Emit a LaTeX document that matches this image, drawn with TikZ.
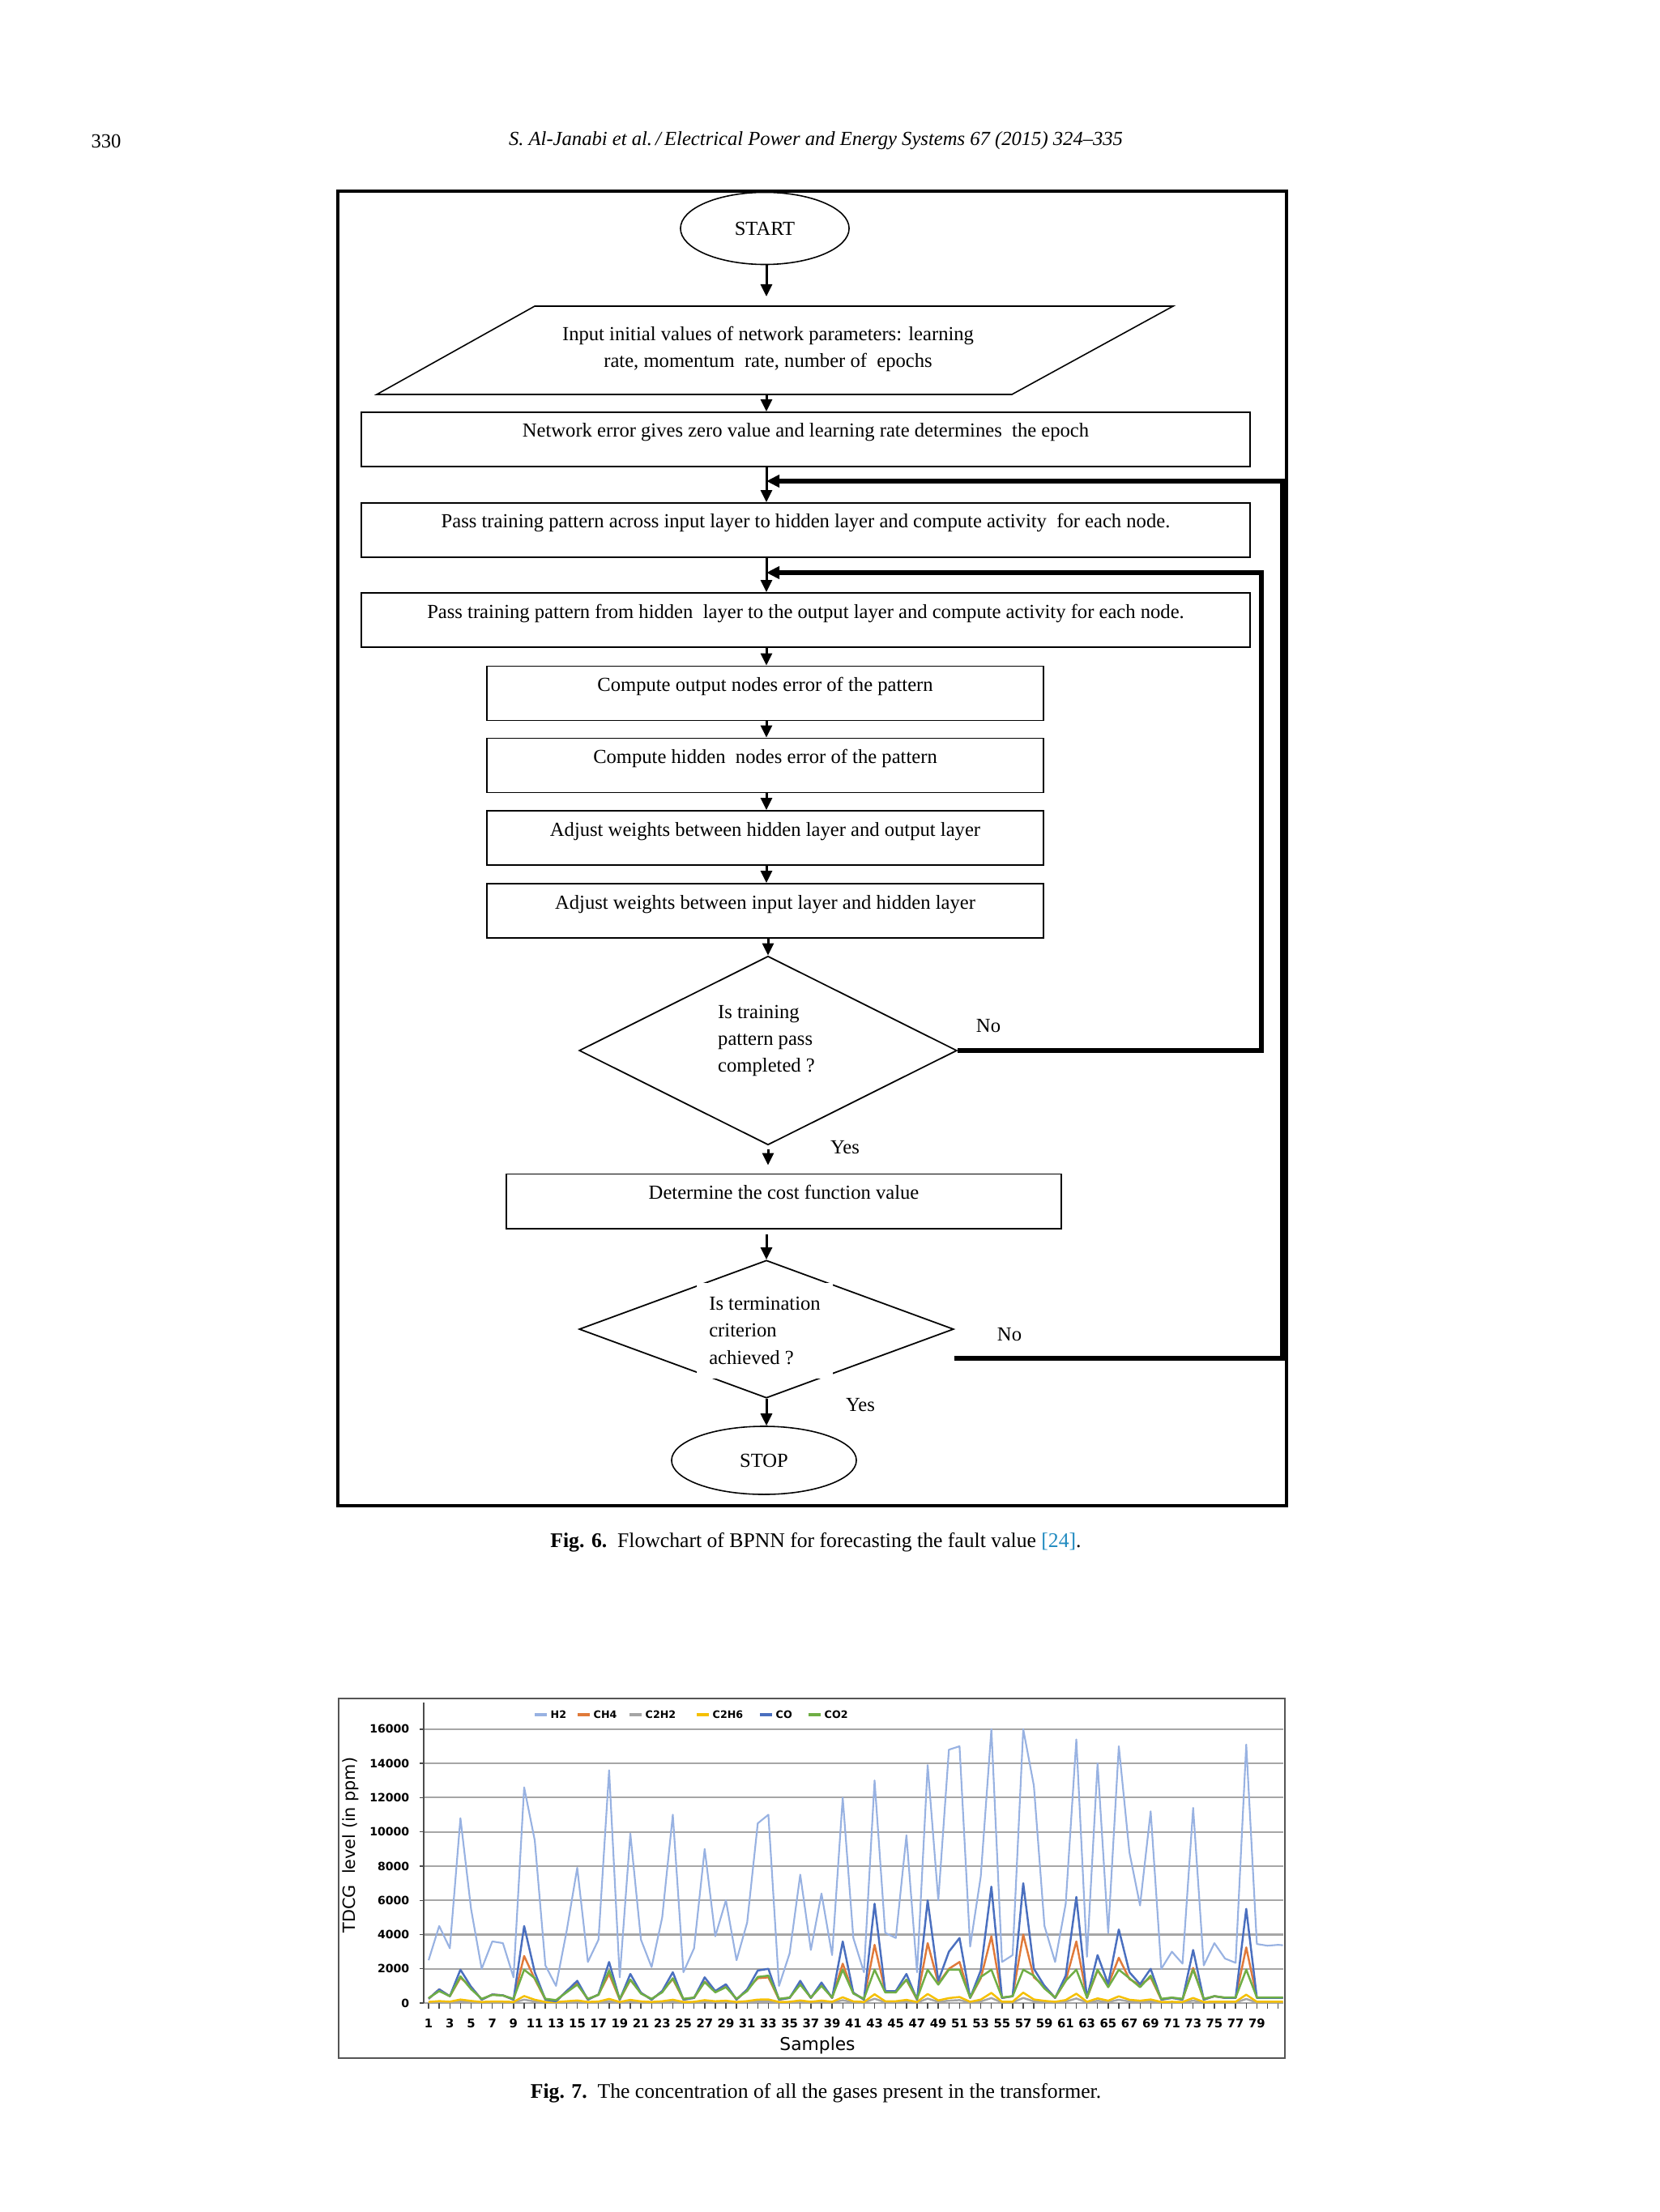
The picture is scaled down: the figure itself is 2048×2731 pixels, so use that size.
\documentclass[tikz,border=0pt]{standalone}
\usepackage{fontspec}
\setmainfont{Liberation Serif}
\newfontfamily\chartfont{DejaVu Sans}
\usetikzlibrary{arrows.meta,positioning,shapes.geometric,calc}

\begin{document}
\begin{tikzpicture}[
    x=0.01cm, y=-0.01cm,
    every node/.style={font=\fontsize{7}{9.4}\selectfont},
    flowbox/.style={draw, line width=0.55pt, minimum width=#1, minimum height=0.67cm, inner sep=0pt, text height=0.2cm, text depth=0.25cm},
    term/.style={draw, ellipse, line width=0.45pt, inner sep=0pt},
    decision/.style={draw, diamond, line width=0.5pt, inner sep=0pt},
    qtext/.style={align=left, inner sep=0pt},
    arr/.style={-{Triangle[length=1.5mm, width=1.4mm]}, line width=0.85pt},
    loopline/.style={-{Triangle[length=1.6mm, width=1.5mm]}, line width=1.5pt},
    tag/.style={font=\fontsize{7}{8}\selectfont},
    axlbl/.style={font=\chartfont\bfseries\fontsize{4}{5}\selectfont, inner sep=0pt},
    legtext/.style={font=\chartfont\bfseries\fontsize{3.6}{4}\selectfont, inner sep=0pt},
    gridln/.style={draw=gridc, line width=0.6pt},
    tickln/.style={draw=black!70, line width=0.4pt},
    series/.style={draw=#1, line width=0.7pt, line join=round},
  ]
    \definecolor{h2c}{HTML}{98B2E2}
    \definecolor{ch4c}{HTML}{E07A3A}
    \definecolor{c2h2c}{HTML}{A5A5A5}
    \definecolor{c2h6c}{HTML}{F5C000}
    \definecolor{coc}{HTML}{4A6FBF}
    \definecolor{co2c}{HTML}{6FAE45}
    \definecolor{gridc}{HTML}{A6A6A6}
    \definecolor{framec}{HTML}{555555}
    \definecolor{citec}{HTML}{1F8AC0}

    \path[use as bounding box, fill=white] (0,0) rectangle (2048,2731);

    % running head
    \node (pageno) at (131,174) {\fontsize{7}{8}\selectfont 330};
    \node (running) at (1007,174) {\itshape\fontsize{7}{8}\selectfont S. Al-Janabi et al.\,/\,Electrical Power and Energy Systems 67 (2015) 324--335};

    % flowchart frame
    \draw[line width=0.95pt] (417,236) rectangle (1588,1859);
    \coordinate (axis) at (946,0);

    % steps
    \node[term, minimum width=2.08cm, minimum height=0.89cm] (start) at (944,282) {START};
    % input parallelogram
    \coordinate (inBL) at (465,487);
    \coordinate (inTL) at (660,378);
    \coordinate (inTR) at (1448,378);
    \coordinate (inBR) at (1249,487);
    \draw[line width=0.45pt] (inBL) -- (inTL) -- (inTR) -- (inBR) -- cycle;
    \node[align=center, inner sep=0pt] (input) at (948,431)
          {Input initial values of network parameters: learning\\rate, momentum\ \ rate, number of\ \ epochs};
    \node[flowbox=10.97cm] (init) at (994.5,542.5) {Network error gives zero value and learning rate determines\ \ the epoch};
    \node[flowbox=10.97cm] (fwdin) at (994.5,654.5) {Pass training pattern across input layer to hidden layer and compute activity\ \ for each node.};
    \node[flowbox=10.97cm] (fwdout) at (994.5,765.5) {Pass training pattern from hidden\ \ layer to the output layer and compute activity for each node.};
    \node[flowbox=6.87cm] (outerr) at (944.5,856) {Compute output nodes error of the pattern};
    \node[flowbox=6.87cm] (hiderr) at (944.5,945) {Compute hidden\ \ nodes error of the pattern};
    \node[flowbox=6.87cm] (adjho) at (944.5,1034.5) {Adjust weights between hidden layer and output layer};
    \node[flowbox=6.87cm] (adjih) at (944.5,1124.5) {Adjust weights between input layer and hidden layer};
    \node[decision, minimum width=4.66cm, minimum height=2.33cm] (passdone) at (948,1297) {};
    \node[qtext] (passtxt) at (946,1285) {Is training\\pattern pass\\completed ?};
    \node[flowbox=6.85cm] (cost) at (967.5,1483) {Determine the cost function value};
    \node[decision, minimum width=4.62cm, minimum height=1.70cm] (termdone) at (946,1641) {};
    \node[qtext, fill=white, minimum width=1.68cm, minimum height=1.18cm] (termtxt) at (944,1643) {Is termination\\criterion\\achieved ?};
    \node[term, minimum width=2.28cm, minimum height=0.84cm] (stop) at (943,1803) {STOP};

    \node[tag] (nopass) at (1220,1267) {No};
    \node[tag] (yespass) at (1043,1417) {Yes};
    \node[tag] (noterm) at (1246,1648) {No};
    \node[tag] (yesterm) at (1062,1735) {Yes};

    % flow
    \draw[arr, shorten >=0.12cm] (start.south -| axis) -- (inTL -| axis);
    \draw[arr] (inBL -| axis) -- (init.north -| axis);
    \draw[arr] (init.south -| axis) -- (fwdin.north -| axis);
    \draw[arr] (fwdin.south -| axis) -- (fwdout.north -| axis);
    \draw[arr] (fwdout.south -| axis) -- (outerr.north -| axis);
    \draw[arr] (outerr.south -| axis) -- (hiderr.north -| axis);
    \draw[arr] (hiderr.south -| axis) -- (adjho.north -| axis);
    \draw[arr] (adjho.south -| axis) -- (adjih.north -| axis);
    \draw[arr] (adjih.south -| passdone.north) -- (passdone.north);
    \draw[arr, shorten <=0.05cm, shorten >=0.1cm] (passdone.south) -- (cost.north -| passdone.south);
    \draw[arr, shorten <=0.06cm] (cost.south -| axis) -- (termdone.north);
    \draw[arr] (termdone.south) -- (stop.north -| termdone.south);

    % loops back
    \coordinate (join1) at (946,594);
    \coordinate (join2) at (946,707);
    \draw[loopline] ([yshift=-0.36cm]termdone.east) -| (1583,594) -- (join1);
    \draw[loopline] (passdone.east) -| (1557,707) -- (join2);

    \node (cap6) at (1007,1904) {\fontsize{7.3}{8}\selectfont\textbf{Fig. 6.}\ \ Flowchart of BPNN for forecasting the fault value \textcolor{citec}{[24]}.};

    % gas chart
    \draw[draw=framec, line width=0.5pt] (418,2097) rectangle (1586,2541);
    \foreach \name/\col/\lx [count=\n] in {H2/h2c/660, CH4/ch4c/713, C2H2/c2h2c/777, C2H6/c2h6c/860, CO/coc/938, CO2/co2c/998} {
      \draw[\col, line width=0.9pt] (\lx,2117) -- ++(15,0);
      \node[legtext, anchor=west] (leg\n) at (\lx+19,2117) {\name};
    }
    \node[font=\chartfont\fontsize{5.9}{7}\selectfont, rotate=90] (ytitle) at (433,2278) {TDCG\ \ level (in ppm)};
    \node[font=\chartfont\fontsize{6.2}{7}\selectfont] (xtitle) at (1009,2525) {Samples};

    \def\codata{0.8,0.4,1.95,0.95,0.2,0.5,0.45,0.2,4.5,
      1.8,0.2,0.1,0.7,1.3,0.2,0.5,2.4,0.2,1.7,0.6,0.2,0.7,1.8,0.2,0.3,1.5,0.7,1.1,0.2,
      0.8,1.9,2.0,0.2,0.3,1.3,0.3,1.2,0.3,3.6,0.6,0.2,5.8,0.7,0.7,1.7,0.2,6.0,1.3,3.0,
      3.8,0.3,1.9,6.8,0.3,0.4,7.0,2.0,1.0,0.3,1.6,6.2,0.3,2.8,1.1,4.3,1.8,1.1,2.0,0.2,
      0.3,0.2,3.1,0.2,0.4,0.3,0.3,5.5,0.3,0.3,0.3,0.3}
    \begin{scope}[shift={(515.9,2473)}, x=0.131cm, y=0.21125cm]
      \foreach \k/\lab in {0/0,2/2000,4/4000,6/6000,8/8000,10/10000,12/12000,14/14000,16/16000} {
        \draw[gridln] (0.54,\k) -- (81.46,\k);
        \draw[tickln] (0.16,\k) -- (0.54,\k);
        \node[axlbl, anchor=east] (ylab\k) at (-0.76,\k) {\lab};
      }
      \draw[tickln] (0.54,0) -- (0.54,17.56);
      \foreach \i in {1,...,81} \draw[tickln] (\i,0) -- (\i,-0.33);
      \foreach \i in {1,3,...,79} \node[axlbl, font=\chartfont\bfseries\fontsize{4.2}{5}\selectfont] (xlab\i) at (\i,-1.18) {\i};

      \begin{scope}
        \clip (0.54,-0.2) rectangle (81.46,17);
        \draw[series=h2c, line width=0.6pt] (1,2.5) \foreach \v [count=\i from 2] in {4.5,3.2,10.8,5.5,2.0,3.6,3.5,1.5,12.6,
          9.5,2.2,1.0,4.2,7.9,2.4,3.7,13.6,1.5,9.9,3.7,2.1,5.0,11.0,1.8,3.2,9.0,3.9,6.0,2.5,
          4.7,10.5,11.0,1.0,2.9,7.5,3.1,6.4,2.8,12.0,3.8,1.8,13.0,4.1,3.8,9.8,1.8,13.9,6.0,14.8,
          15.0,3.3,7.4,16.0,2.4,2.8,16.0,12.7,4.5,2.4,5.8,15.4,2.7,14.0,4.1,15.0,8.8,5.7,11.2,2.0,
          3.0,2.3,11.4,2.2,3.5,2.6,2.35,15.1,3.45,3.35,3.4,3.35} { -- (\i,\v) };
        \draw[series=ch4c] (1,0.25) \foreach \v [count=\i from 2] in \codata { -- (\i,{min(\v,0.5*\v+0.5)}) };
        \draw[series=c2h2c] (1,0.03) \foreach \v [count=\i from 2] in \codata { -- (\i,{0.04*\v+0.02}) };
        \draw[series=c2h6c] (1,0.07) \foreach \v [count=\i from 2] in \codata { -- (\i,{0.08*\v+0.05}) };
        \draw[series=coc] (1,0.25) \foreach \v [count=\i from 2] in \codata { -- (\i,\v) };
        \draw[series=co2c] (1,0.29) \foreach \v [count=\i from 2] in \codata { -- (\i,{min(1.95,0.75*\v+0.1)}) };
      \end{scope}
    \end{scope}

    \node (cap7) at (1007,2584) {\fontsize{7.3}{8}\selectfont\textbf{Fig. 7.}\ \ The concentration of all the gases present in the transformer.};
  \end{tikzpicture}
\end{document}
